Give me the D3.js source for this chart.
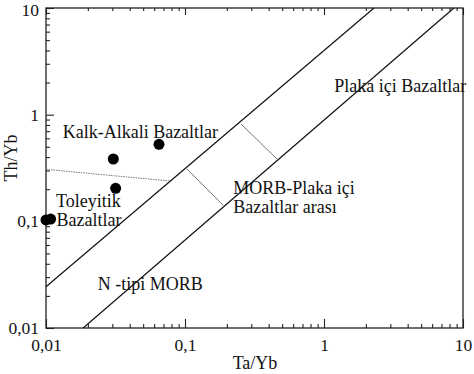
<!DOCTYPE html>
<html><head><meta charset="utf-8">
<script src="https://cdn.jsdelivr.net/npm/d3@7/dist/d3.min.js"></script>
</head>
<body style="margin:0;background:#fff"><svg id="c" width="474" height="374"></svg>
<script>
// ---- data ----
const majorTicks = [0.01, 0.1, 1, 10];
const tickLabels = ["0,01", "0,1", "1", "10"];
const xLabel = "Ta/Yb";
const yLabel = "Th/Yb";
// sample points (Ta/Yb, Th/Yb)
const sampleTaYb = [0.065, 0.0305, 0.0317, 0.0100, 0.0108];
const sampleThYb = [0.527, 0.384, 0.204, 0.103, 0.105];
// field boundaries [[x1,y1],[x2,y2]]
const upperBoundary = [[0.01, 0.0244], [2.29, 10]];
const lowerBoundary = [[0.0185, 0.01], [8.6, 10]];
const calcAlkTholBoundary = [[0.01, 0.307], [0.078, 0.239]];
const transitionBoundaries = [
  [[0.1034, 0.309], [0.1877, 0.142]],
  [[0.253, 0.817], [0.459, 0.384]]
];
// field labels: text, Ta/Yb, Th/Yb (left/baseline anchor)
const fieldLabels = [
  ["Kalk-Alkali Bazaltlar", 0.01318, 0.604],
  ["Toleyitik", 0.0118, 0.136],
  ["Bazaltlar", 0.0119, 0.0904],
  ["MORB-Plaka içi", 0.2226, 0.180],
  ["Bazaltlar arası", 0.2226, 0.119],
  ["Plaka içi Bazaltlar", 1.186, 1.629],
  ["N -tipi MORB", 0.02355, 0.0227]
];

// ---- layout ----
const svg = d3.select("#c");
const L = 46, T = 8, W = 417, H = 320;
const FONT = '"Liberation Serif"';
const x = d3.scaleLog().domain([0.01, 10]).range([L, L + W]);
const y = d3.scaleLog().domain([0.01, 10]).range([T + H, T]);

const minorTicks = [];
[0.01, 0.1, 1].forEach(d => { for (let k = 2; k <= 9; k++) minorTicks.push(+(k * d).toPrecision(3)); });

const axisColor = "#222";
function styleAxis(g) {
  g.attr("font-family", null);
  g.select(".domain").remove();
  g.selectAll("line").attr("stroke", axisColor).attr("stroke-width", 1.1);
  g.selectAll("text").style("font-family", FONT).attr("font-size", 17.5).attr("fill", "#111");
}
// bottom
svg.append("g").attr("transform", `translate(0,${T + H})`)
  .call(d3.axisBottom(x).tickValues(minorTicks).tickSize(-4).tickFormat("")).call(styleAxis);
svg.append("g").attr("transform", `translate(0,${T + H})`)
  .call(d3.axisBottom(x).tickValues(majorTicks).tickSize(-9).tickPadding(11)
    .tickFormat((d, i) => tickLabels[i])).call(styleAxis);
// top
svg.append("g").attr("transform", `translate(0,${T})`)
  .call(d3.axisTop(x).tickValues(minorTicks).tickSize(-3).tickFormat("")).call(styleAxis);
svg.append("g").attr("transform", `translate(0,${T})`)
  .call(d3.axisTop(x).tickValues(majorTicks).tickSize(-7).tickFormat("")).call(styleAxis);
// left
svg.append("g").attr("transform", `translate(${L},0)`)
  .call(d3.axisLeft(y).tickValues(minorTicks).tickSize(-4).tickFormat("")).call(styleAxis);
const leftMajor = svg.append("g").attr("transform", `translate(${L},0)`)
  .call(d3.axisLeft(y).tickValues(majorTicks).tickSize(-8).tickPadding(7)
    .tickFormat((d, i) => tickLabels[i])).call(styleAxis);
// keep the top label ("10") inside the picture
leftMajor.selectAll("text").filter(d => d === 10).attr("dy", "0.42em");

// frame
svg.append("rect").attr("x", L).attr("y", T).attr("width", W).attr("height", H)
  .attr("fill", "none").attr("stroke", axisColor).attr("stroke-width", 1.3);

const line = d3.line().x(d => x(d[0])).y(d => y(d[1]));
svg.append("path").attr("d", line(upperBoundary)).attr("stroke", "#111").attr("stroke-width", 1.2).attr("fill", "none");
svg.append("path").attr("d", line(lowerBoundary)).attr("stroke", "#111").attr("stroke-width", 1.2).attr("fill", "none");
svg.append("path").attr("d", line(calcAlkTholBoundary)).attr("stroke", "#777").attr("stroke-width", 1)
  .attr("stroke-dasharray", "1.5,1").attr("fill", "none");
transitionBoundaries.forEach(s => svg.append("path").attr("d", line(s))
  .attr("stroke", "#777").attr("stroke-width", 1).attr("fill", "none"));

// labels
svg.selectAll("text.field").data(fieldLabels).join("text").attr("class", "field")
  .style("font-family", FONT).attr("fill", "#111")
  .attr("x", d => x(d[1])).attr("y", d => y(d[2])).attr("font-size", 18).text(d => d[0]);

// points
svg.selectAll("circle.pt").data(sampleTaYb).join("circle").attr("class", "pt")
  .attr("cx", d => x(d)).attr("cy", (d, i) => y(sampleThYb[i])).attr("r", 5.5).attr("fill", "#000");

// axis titles
svg.append("text").style("font-family", FONT).attr("fill", "#111").attr("x", 255).attr("y", 369)
  .attr("text-anchor", "middle").attr("font-size", 18).text(xLabel);
svg.append("text").style("font-family", FONT).attr("fill", "#111").attr("transform", "translate(17,158) rotate(-90)")
  .attr("text-anchor", "middle").attr("font-size", 18).text(yLabel);
</script></body></html>
